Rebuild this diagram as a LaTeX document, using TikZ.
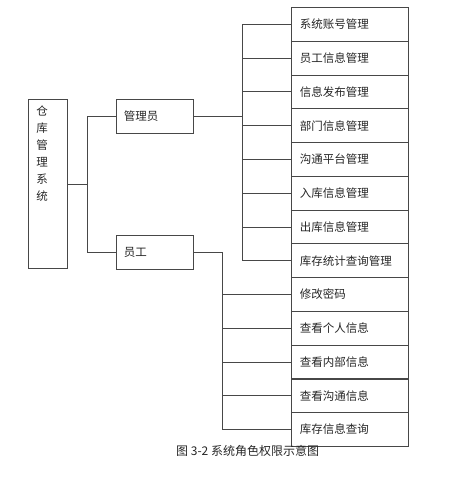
\documentclass[tikz,border=0pt]{standalone}
\usepackage{fontspec}
\newfontfamily\cjk{Noto Sans CJK SC}
\usetikzlibrary{calc}
\begin{document}
\begin{tikzpicture}[x=1pt,y=-1pt,
  frame/.style={draw=black!72, line width=0.8pt},
  wire/.style={draw=black!72, line width=0.8pt},
  cjkfont/.style={font=\cjk\fontsize{11.5}{13}\selectfont, text=black!85},
  rbox/.style={frame, cjkfont, anchor=north west, minimum width=117pt, minimum height=33.8pt,
    text width=100pt, inner xsep=8pt, align=left},
  mbox/.style={frame, cjkfont, anchor=north west, minimum width=77pt, minimum height=34pt,
    text width=62pt, inner xsep=7pt, align=left}]
\useasboundingbox (0,0) rectangle (474,489);

% left system box
\node[frame, anchor=north west, minimum width=39pt, minimum height=169pt, inner sep=0] (sys) at (28,99) {};
\node[cjkfont, anchor=north, align=center, inner sep=0, font=\cjk\fontsize{11.5}{17}\selectfont] (systxt) at (42,106) {仓\\库\\管\\理\\系\\统};

% role boxes
\node[mbox] (adm) at (116,99) {管理员\\[-5pt]};
\node[mbox] (emp) at (116,235) {员工\\[-5pt]};

% right boxes
\foreach \i/\t in {1/系统账号管理,2/员工信息管理,3/信息发布管理,4/部门信息管理,5/沟通平台管理,6/入库信息管理,7/出库信息管理,8/库存统计查询管理,9/修改密码,10/查看个人信息,11/查看内部信息,12/查看沟通信息,13/库存信息查询}{
  \node[rbox] (r\i) at (291,{7+(\i-1)*33.77}) {\t\\[-5pt]};
}

% buses
\coordinate (b0) at (87,0);
\coordinate (b1) at (242,0);
\coordinate (b2) at (222,0);

\draw[wire] (sys.east) -- (sys.east -| b0);
\draw[wire] (adm.west -| b0) -- (emp.west -| b0);
\draw[wire] (adm.west -| b0) -- (adm.west);
\draw[wire] (emp.west -| b0) -- (emp.west);

\draw[wire] (adm.east) -- (adm.east -| b1);
\draw[wire] (r1.west -| b1) -- (r8.west -| b1);
\foreach \i in {1,...,8}{ \draw[wire] (r\i.west -| b1) -- (r\i.west); }

\draw[wire] (emp.east) -- (emp.east -| b2) -- (r13.west -| b2);
\foreach \i in {9,...,13}{ \draw[wire] (r\i.west -| b2) -- (r\i.west); }

% caption
\node[cjkfont, anchor=west, inner sep=0, font=\cjk\fontsize{12}{14}\selectfont] (cap) at (176,451) {图 3-2 系统角色权限示意图};
\end{tikzpicture}
\end{document}
